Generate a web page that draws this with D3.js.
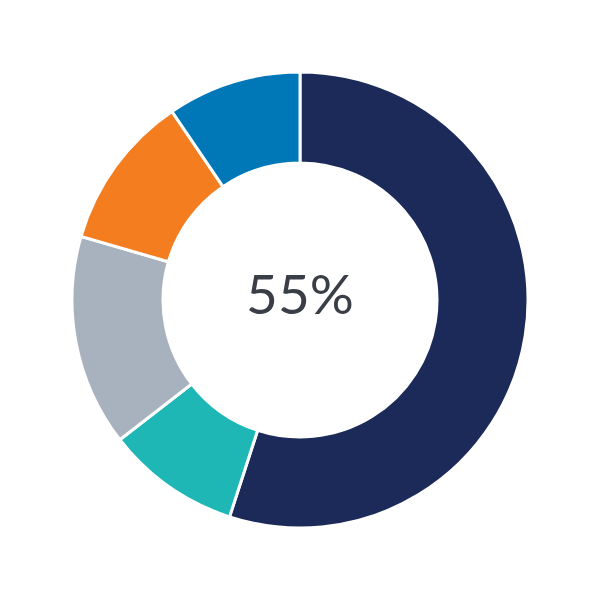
<!DOCTYPE html>
<html>
<head>
<meta charset="utf-8">
<script src="https://cdn.jsdelivr.net/npm/d3@7"></script>
<style>
  html, body { margin: 0; padding: 0; background: #fff; }
</style>
</head>
<body>
<div class="chartHolder"></div>
<script>
var labels = ["A", "B", "C", "D", "E"];
var values = [55, 9.5, 15, 11, 9.5];
var colors = ["#1b2a59", "#1fb6b6", "#a8b2bf", "#f47d20", "#0077b7"];
var centerLabel = "55%";

var svgW = 600, svgH = 600;
var outerR = 228, innerR = 137;

var svg = d3.select(".chartHolder").append("svg").attr("width", svgW).attr("height", svgH);
var g = svg.append("g").attr("transform", "translate(" + svgW / 2 + "," + svgH / 2 + ")");

var pie = d3.pie().sort(null).value(function (d) { return d; });
var arc = d3.arc().innerRadius(innerR).outerRadius(outerR);

g.selectAll("path").data(pie(values)).enter().append("path")
  .attr("d", arc)
  .style("fill", function (d, i) { return colors[i]; })
  .style("stroke", "#fff")
  .style("stroke-width", 3);

// center label, nudged up a touch
g.append("text").text(centerLabel)
  .attr("text-anchor", "middle")
  .attr("y", -5)
  .attr("dy", "0.35em")
  .attr("font-family", "Lato, 'Open Sans', sans-serif")
  .attr("font-size", "55px")
  .attr("fill", "#3a3f47");
</script>
</body>
</html>
